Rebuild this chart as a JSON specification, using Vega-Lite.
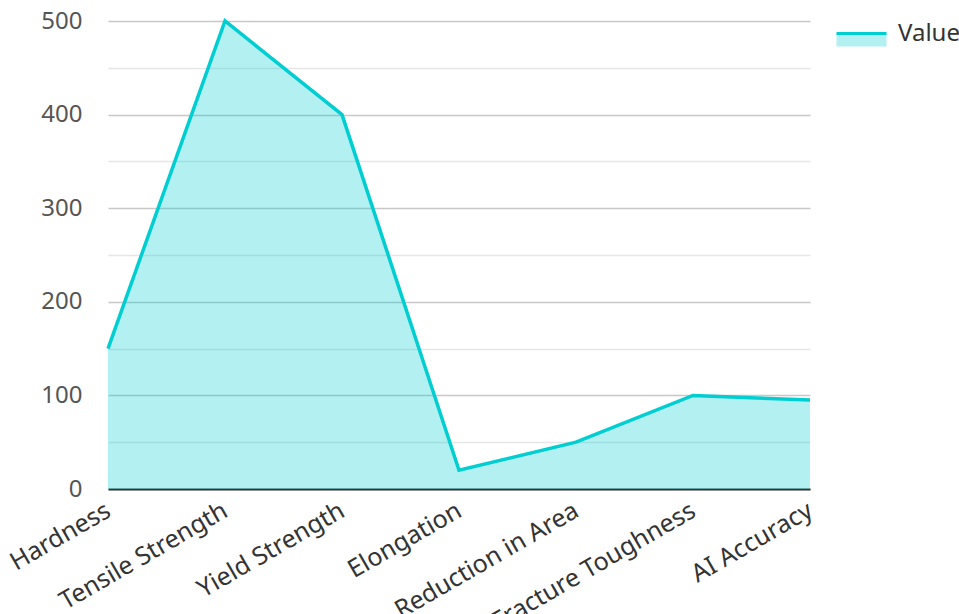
{
  "$schema": "https://vega.github.io/schema/vega-lite/v6.json",
  "width": 702,
  "height": 468,
  "autosize": {"type": "none"},
  "padding": {"left": 108, "top": 21, "right": 149, "bottom": 125},
  "background": "white",
  "config": {
    "view": {"stroke": null},
    "font": "Noto Sans"
  },
  "data": {
    "values": [
      {"metric": "Hardness", "value": 150},
      {"metric": "Tensile Strength", "value": 500},
      {"metric": "Yield Strength", "value": 400},
      {"metric": "Elongation", "value": 20},
      {"metric": "Reduction in Area", "value": 50},
      {"metric": "Fracture Toughness", "value": 100},
      {"metric": "AI Accuracy", "value": 95}
    ]
  },
  "encoding": {
    "x": {
      "field": "metric",
      "type": "nominal",
      "sort": null,
      "scale": {"type": "point", "padding": 0},
      "axis": {
        "title": null,
        "labelAngle": -30,
        "labelAlign": "right",
        "labelBaseline": "middle",
        "labelFontSize": 25,
        "labelLimit": 400,
        "labelColor": "#333333",
        "labelPadding": 19,
        "ticks": false,
        "grid": false,
        "domainColor": "#333333",
        "domainWidth": 2
      }
    },
    "y": {
      "field": "value",
      "type": "quantitative",
      "scale": {"domain": [0, 500], "nice": false},
      "axis": {
        "title": null,
        "values": [0, 50, 100, 150, 200, 250, 300, 350, 400, 450, 500],
        "labelExpr": "datum.value % 100 === 0 ? datum.label : ''",
        "labelFontSize": 24,
        "labelColor": "#555555",
        "labelPadding": 26,
        "ticks": false,
        "domain": false,
        "grid": true,
        "gridColor": {"condition": {"test": "datum.value % 100 === 0", "value": "#c8c8c8"}, "value": "#e6e6e6"},
        "gridWidth": 1.5
      }
    }
  },
  "layer": [
    {
      "mark": {"type": "area", "color": "#00CED1", "fillOpacity": 0.3}
    },
    {
      "mark": {"type": "line", "strokeWidth": 3.5},
      "encoding": {
        "stroke": {
          "datum": "Value",
          "type": "nominal",
          "scale": {"range": ["#00CED1"]},
          "legend": {
            "title": null,
            "orient": "none",
            "legendX": 727,
            "legendY": -14,
            "symbolType": "M-1,0 L1,0 L1,0.52 L-1,0.52 Z",
            "symbolSize": 2500,
            "symbolFillColor": "#B2F0F1",
            "symbolStrokeWidth": 3,
            "symbolDash": [50, 1000],
            "symbolOpacity": 1,
            "labelFontSize": 24,
            "labelColor": "#333333",
            "labelOffset": 10
          }
        }
      }
    }
  ]
}
